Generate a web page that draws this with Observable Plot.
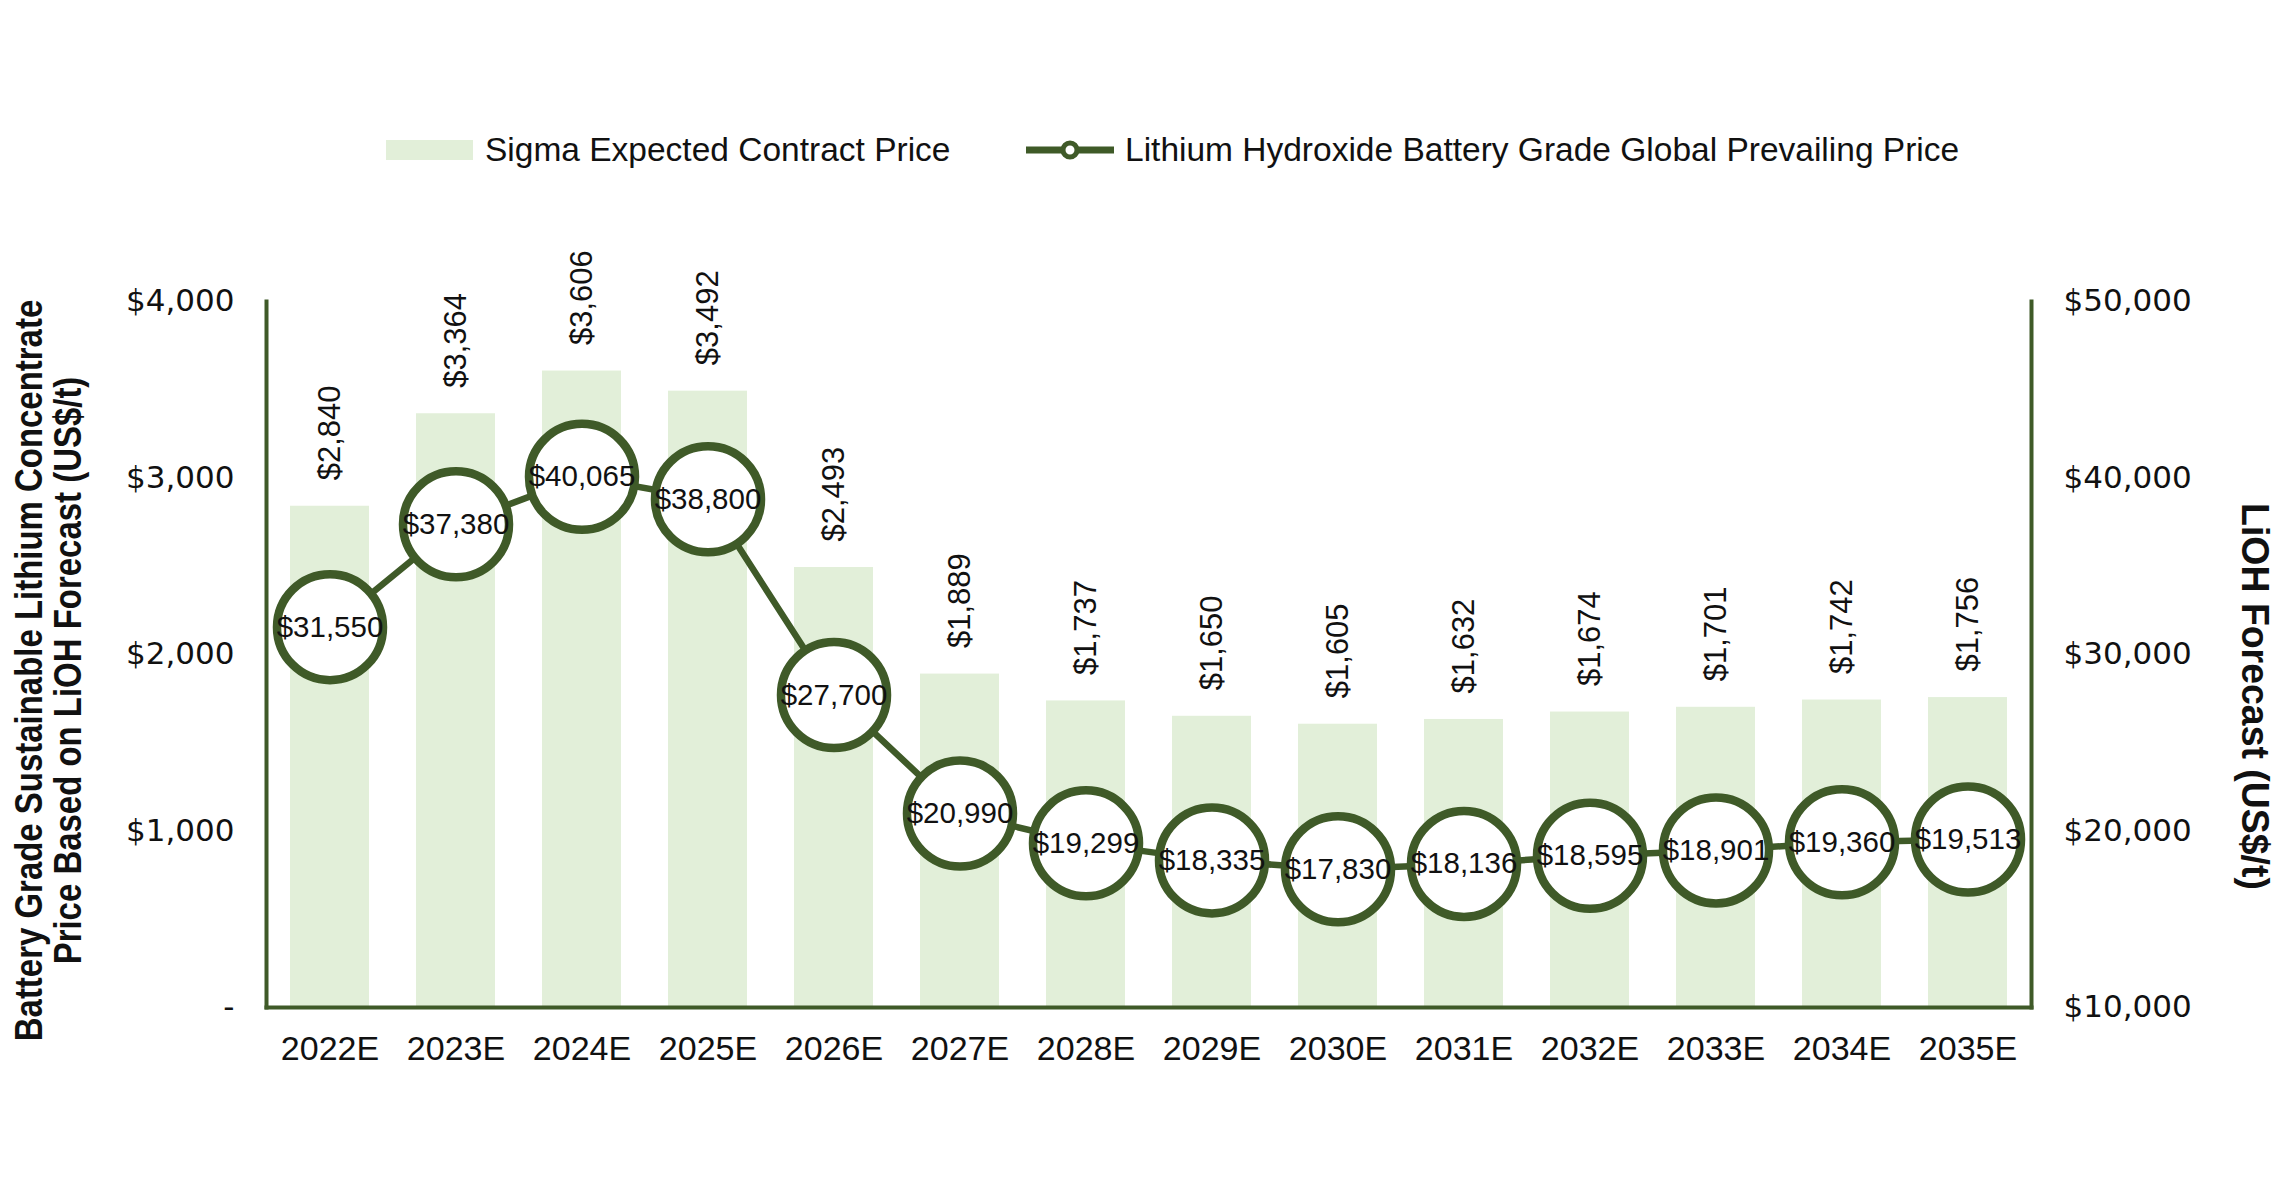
<!DOCTYPE html>
<html>
<head>
<meta charset="utf-8">
<script src="https://cdn.jsdelivr.net/npm/d3@7"></script>
<script src="https://cdn.jsdelivr.net/npm/@observablehq/plot@0.6"></script>
<style>
  html, body { margin: 0; padding: 0; background: #fff; }
  #wrap { width: 2283px; height: 1196px; position: relative; overflow: hidden; }
  #legend { position: relative; width: 2283px; height: 210px; font-family: "Liberation Sans", Arial, sans-serif; font-size: 33.5px; color: #111; }
  .li { position: absolute; top: 150px; transform: translateY(-50%); white-space: nowrap; line-height: 1; }
</style>
</head>
<body>
<div id="wrap">
  <div id="legend"></div>
  <div id="chart"></div>
</div>
<script>
const years = ["2022E","2023E","2024E","2025E","2026E","2027E","2028E","2029E","2030E","2031E","2032E","2033E","2034E","2035E"];
const contractPrice = [2840, 3364, 3606, 3492, 2493, 1889, 1737, 1650, 1605, 1632, 1674, 1701, 1742, 1756];
const liohPrice = [31550, 37380, 40065, 38800, 27700, 20990, 19299, 18335, 17830, 18136, 18595, 18901, 19360, 19513];
const leftTicks = [0, 1000, 2000, 3000, 4000];
const rightTicks = [10000, 20000, 30000, 40000, 50000];
const seriesNames = ["Sigma Expected Contract Price", "Lithium Hydroxide Battery Grade Global Prevailing Price"];
const leftTitle = "Battery Grade Sustainable Lithium Concentrate\nPrice Based on LiOH Forecast (US$/t)";
const rightTitle = "LiOH Forecast (US$/t)";

const barColor = "#e2efd9";
const darkGreen = "#3f5a28";

// right axis maps 10,000..50,000 onto left 0..4,000
const toLeft = v => (v - 10000) / 10;

const data = years.map((year, i) => ({year, contract: contractPrice[i], lioh: liohPrice[i]}));
const fmt = d3.format(",");

// Legend
const legend = document.getElementById("legend");
legend.innerHTML = `
  <div class="li" style="left:386px;width:87px;height:20px;background:${barColor}"></div>
  <div class="li" style="left:485px">${seriesNames[0]}</div>
  <svg class="li" style="left:1026px" width="88" height="24" viewBox="0 0 88 24">
    <line x1="0" x2="88" y1="12" y2="12" stroke="${darkGreen}" stroke-width="7"/>
    <circle cx="44" cy="12" r="7" fill="#fff" stroke="${darkGreen}" stroke-width="5"/>
  </svg>
  <div class="li" style="left:1125px">${seriesNames[1]}</div>
`;

const titleFont = "'Liberation Sans', Arial, sans-serif";

const chart = Plot.plot({
  width: 2283,
  height: 986,
  marginTop: 91,
  marginBottom: 189,
  marginLeft: 266,
  marginRight: 252,
  style: {fontFamily: "'Liberation Sans', Arial, sans-serif", background: "#fff", color: "#111"},
  x: {domain: years, paddingInner: 0.375, paddingOuter: 0.1875, label: null},
  y: {domain: [0, 4000], label: null},
  marks: [
    Plot.barY(data, {x: "year", y: "contract", fill: barColor}),
    Plot.text(data, {x: "year", y: "contract", text: d => "$" + fmt(d.contract), rotate: -90, textAnchor: "start", dy: -26, fontSize: 31, fill: "#111"}),
    Plot.frame({anchor: "left", stroke: darkGreen, strokeWidth: 4}),
    Plot.frame({anchor: "right", stroke: darkGreen, strokeWidth: 4}),
    Plot.frame({anchor: "bottom", stroke: darkGreen, strokeWidth: 4}),
    Plot.line(data, {x: "year", y: d => toLeft(d.lioh), stroke: darkGreen, strokeWidth: 6.5}),
    Plot.dot(data, {x: "year", y: d => toLeft(d.lioh), r: 53, fill: "#fff", stroke: darkGreen, strokeWidth: 8.5}),
    Plot.text(data, {x: "year", y: d => toLeft(d.lioh), text: d => "$" + fmt(d.lioh), fontSize: 29.5, fill: "#111"}),
    Plot.axisX({tickSize: 0, tickPadding: 28, fontSize: 34, label: null, fill: "#111"}),
    Plot.axisY({anchor: "left", ticks: leftTicks, tickSize: 0, tickPadding: 32, fontSize: 31, fontFamily: "'DejaVu Sans', sans-serif", label: null, fill: "#111",
      tickFormat: d => d === 0 ? "-" : "$" + fmt(d)}),
    Plot.axisY({anchor: "right", ticks: rightTicks.map(toLeft), tickSize: 0, tickPadding: 32, fontSize: 31, fontFamily: "'DejaVu Sans', sans-serif", label: null, fill: "#111",
      tickFormat: d => "$" + fmt(d * 10 + 10000)}),
    Plot.text([leftTitle], {frameAnchor: "left", textAnchor: "middle", lineAnchor: "middle", dx: -217, dy: 16, rotate: -90, fontSize: 39, fontWeight: "bold", fontFamily: titleFont, lineHeight: 1.0, fill: "#111", className: "ltitle"}),
    Plot.text([rightTitle], {frameAnchor: "right", textAnchor: "middle", lineAnchor: "middle", dx: 223, dy: 42, rotate: 90, fontSize: 39, fontWeight: "bold", fontFamily: titleFont, fill: "#111", className: "rtitle"})
  ]
});

// condense the bold axis titles horizontally (along the text direction)
function condense(sel, k) {
  d3.select(chart).selectAll(sel).each(function() {
    const t = this.getAttribute("transform") || "";
    this.setAttribute("transform", t + ` scale(${k},1)`);
  });
}
condense(".ltitle text", 0.845);
condense(".rtitle text", 0.96);

document.getElementById("chart").appendChild(chart);
</script>
</body>
</html>
